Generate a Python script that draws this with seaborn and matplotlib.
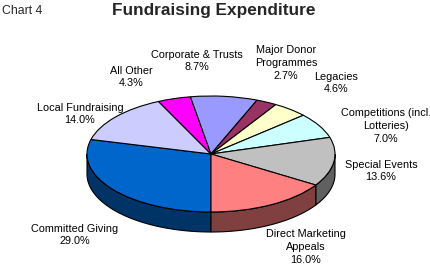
import numpy as np
import matplotlib
matplotlib.use("Agg")
import matplotlib.pyplot as plt
from matplotlib.patches import Polygon
import seaborn as sns

# ---- data ----
categories = ["Committed Giving", "Local Fundraising", "All Other", "Corporate & Trusts",
              "Major Donor\nProgrammes", "Legacies", "Competitions (incl.\nLotteries)",
              "Special Events", "Direct Marketing\nAppeals"]
values = [29.0, 14.0, 4.3, 8.7, 2.7, 4.6, 7.0, 13.6, 16.0]
colors = ["#0066CC", "#CCCCFF", "#FF00FF", "#9999FF", "#993366", "#FFFFCC",
          "#CCFFFF", "#C0C0C0", "#FF8080"]
title = "Fundraising Expenditure"
chart_no = "Chart 4"

# ---- layout (pixels) ----
W, H = 431, 264
CX, CY, RX, RY, DEPTH = 211, 154, 124, 58, 20
label_pos = [(75, 235), (80, 114), (131, 77), (197, 61), (286, 63),
             (336, 83), (386, 126), (381, 171), (306, 247)]

sns.set_theme(style="white")
plt.rcParams['font.family'] = ['Liberation Sans', 'DejaVu Sans']

fig = plt.figure(figsize=(W / 100, H / 100), dpi=100)
ax = fig.add_axes([0, 0, 1, 1])

wedges, _ = ax.pie(values, startangle=270, counterclock=False, colors=colors,
                   wedgeprops=dict(edgecolor="black", linewidth=0.8), radius=1.0)
for w in wedges:
    w.set_zorder(3)

D = DEPTH / RY
for w, c in zip(wedges, colors):
    a, b = w.theta1, w.theta2
    # visible front: angles in [180, 360]
    segs = []
    for off in (-360, 0, 360):
        lo, hi = max(a + off, 180), min(b + off, 360)
        if hi > lo:
            segs.append((lo, hi))
    rgb = np.array(matplotlib.colors.to_rgb(c)) * 0.5
    for lo, hi in segs:
        t = np.radians(np.linspace(lo, hi, 60))
        top = np.column_stack([np.cos(t), np.sin(t)])
        bot = np.column_stack([np.cos(t[::-1]), np.sin(t[::-1]) - D])
        poly = Polygon(np.vstack([top, bot]), closed=True, facecolor=rgb,
                       edgecolor="black", linewidth=0.8, zorder=2)
        ax.add_patch(poly)

ax.set_aspect("auto")
ax.set_xlim(-CX / RX, (W - CX) / RX)
ax.set_ylim((CY - H) / RY, CY / RY)
ax.axis("off")

for cat, v, (px, py) in zip(categories, values, label_pos):
    ax.annotate(f"{cat}\n{v:.1f}%", xy=(px, H - py), xycoords="figure pixels",
                ha="center", va="center", fontsize=7.8, linespacing=1.35, color="black")

fig.text(2 / W, 1 - 11 / H, chart_no, ha="left", va="center", fontsize=8.8)
fig.text(214 / W, 1 - 11 / H, title, ha="center", va="center", fontsize=12.4,
         fontweight="bold")

fig.savefig("out.png", dpi=100, facecolor="white")
